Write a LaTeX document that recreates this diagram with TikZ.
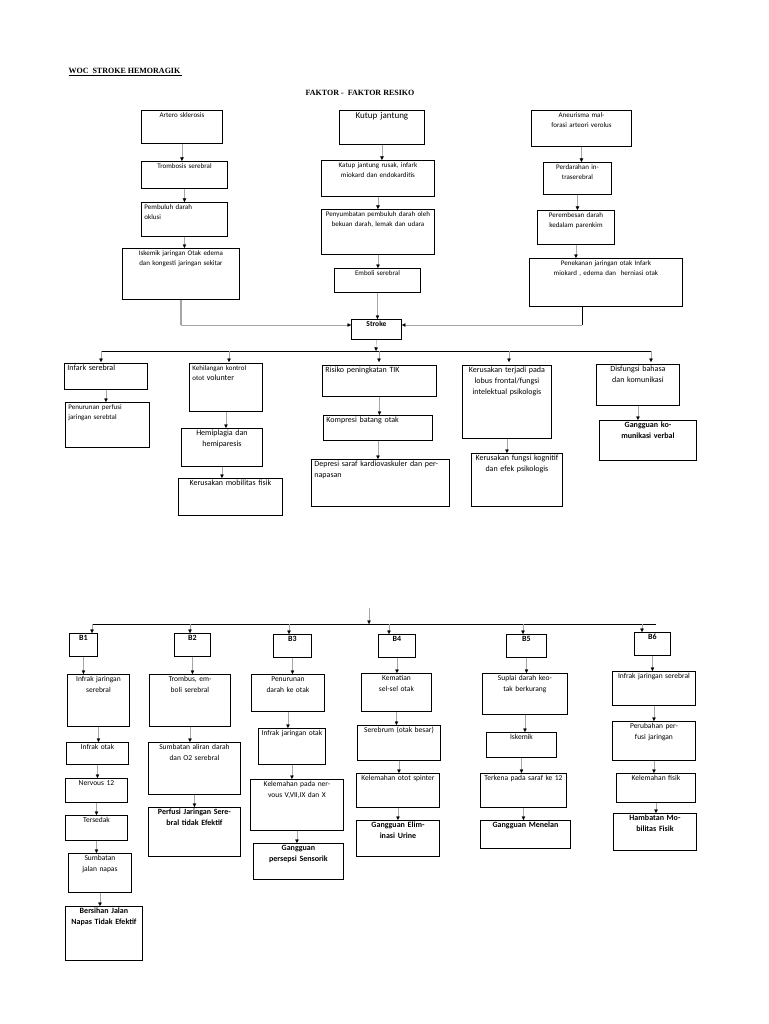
\documentclass[tikz,border=0pt]{standalone}
\usepackage{fontspec}
\setmainfont{Carlito}
\newfontfamily\tms{Liberation Serif}
\usetikzlibrary{arrows.meta,calc}
\tikzset{
  box/.style={draw=black,line width=0.9pt,inner sep=0pt,anchor=north west},
  txt/.style={anchor=north,align=center,inner sep=2pt,font=\fontsize{7}{10.5}\selectfont},
  arr/.style={draw=black!35,line width=0.4pt,-{Triangle[black,length=3.5pt,width=3.5pt]}},
  bus/.style={draw=black,line width=0.9pt},
}
\newcommand\bx[7][]{%
  \pgfmathsetmacro\bw{#5-#3}\pgfmathsetmacro\bh{#6-#4}\pgfmathsetmacro\tw{#5-#3-6}%
  \node[box,minimum width=\bw pt,minimum height=\bh pt] (#2) at (#3,#4) {};
  \node[txt,text width=\tw pt,#1] (#2t) at (#2.north) {#7};}
\begin{document}
\begin{tikzpicture}[x=1pt,y=-1pt]
\useasboundingbox[fill=white] (0,0) rectangle (768,1024);
\node[anchor=west,font=\tms\fontsize{8}{9}\selectfont\bfseries] (title) at (65,72) {\underline{WOC\ \ STROKE HEMORAGIK\ }};
\node[font=\tms\fontsize{8}{9}\selectfont\bfseries] (faktor) at (360,93) {FAKTOR -\ \ FAKTOR RESIKO};
% top left column
\bx{a1}{141}{110}{222}{143}{Artero sklerosis}
\bx{a2}{141}{161}{227}{188}{Trombosis serebral}
\bx[align=left]{a3}{141}{202}{227}{236}{Pembuluh darah\\oklusi}
\bx{a4}{122}{248}{239}{299}{Iskemik jaringan Otak edema dan kongesti jaringan sekitar}
% middle
\bx[font=\fontsize{9}{11}\selectfont]{b1}{339}{110}{424}{144}{Kutup jantung}
\node[box,minimum width=113pt,minimum height=36pt] (b2) at (321,160) {};
\begin{scope}\clip (321,160) rectangle (434,193);
\node[txt,text width=107pt] (b2t) at (b2.north) {Katup jantung rusak, infark miokard dan endokarditis};
\end{scope}
\bx{b3}{321}{209}{434}{254}{Penyumbatan pembuluh darah oleh bekuan darah, lemak dan udara}
\bx{b4}{334}{268}{420}{292}{Emboli serebral}
% right
\bx{c1}{531}{110}{631}{146}{Aneurisma malforasi arteori verolus}
\bx{c2}{543}{162}{611}{194}{Perdarahan intraserebral}
\bx{c3}{537}{210}{614}{244}{Perembesan darah kedalam parenkim}
\bx{c4}{529}{258}{682}{306}{Penekanan jaringan otak Infark miokard , edema dan\ \ herniasi otak}
\bx[font=\fontsize{7.5}{9}\selectfont\bfseries]{st}{351}{319}{401}{339}{Stroke}
\foreach \u/\v in {a1/a2,a2/a3,a3/a4,b1/b2,b2/b3,b3/b4,c1/c2,c2/c3,c3/c4}
  \draw[arr] (\u.south) -- (\u.south |- \v.north);
\draw[arr] (b4.south) -- (b4.south |- st.north);
\coordinate (jl) at (181,325);
\coordinate (jr) at (582,325);
\draw[bus] (a4.south) -- (jl);
\draw[arr] (jl) -- (st.west |- jl);
\draw[bus] (582,306) -- (jr);
\draw[arr] (jr) -- (st.east |- jr);
% second level
\coordinate (sb) at (376,351);
\draw[arr] (st.south) -- (sb);
\draw[bus] (101,351) -- (651,351);
\bx[font=\fontsize{8}{10}\selectfont,align=left]{d1}{64}{363}{147}{389}{Infark serebral}
\bx[align=left]{d2}{65}{402}{149}{447}{Penurunan perfusi jaringan serebtal}
\bx[align=left]{e1}{189}{363}{262}{411}{Kehilangan kontrol otot {\fontsize{8}{10}\selectfont volunter}}
\bx[font=\fontsize{8}{11}\selectfont]{e2}{181}{428}{262}{466}{Hemiplagia dan hemiparesis}
\bx[font=\fontsize{8}{11}\selectfont]{e3}{178}{478}{282}{515}{Kerusakan mobilitas fisik}
\bx[font=\fontsize{8}{10}\selectfont,align=left]{f1}{322}{365}{436}{396}{Risiko peningkatan TIK}
\bx[font=\fontsize{8}{10}\selectfont,align=left]{f2}{323}{415}{432}{440}{Kompresi batang otak}
\bx[font=\fontsize{8}{11}\selectfont,align=left]{f3}{311}{459}{449}{506}{Depresi saraf kardiovaskuler dan pernapasan}
\bx[font=\fontsize{8}{11}\selectfont]{g1}{462}{365}{551}{438}{Kerusakan terjadi pada lobus frontal/fungsi intelektual psikologis}
\bx[font=\fontsize{8}{11}\selectfont]{g2}{471}{453}{562}{506}{Kerusakan fungsi kognitif dan efek psikologis}
\bx[font=\fontsize{8}{11}\selectfont]{h1}{596}{364}{679}{405}{Disfungsi bahasa dan komunikasi}
\bx[font=\fontsize{8}{11}\selectfont\bfseries]{h2}{599}{420}{696}{460}{Gangguan komunikasi verbal}
\foreach \n/\x in {d1/101,e1/229,f1/379,g1/509,h1/651}
  \draw[arr] (\x,351) -- (\x,362);
\foreach \u/\v in {d1/d2,e1/e2,e2/e3,f1/f2,f2/f3,g1/g2,h1/h2}
  \draw[arr] (\u.south) -- (\u.south |- \v.north);
% bottom
\coordinate (bt) at (369,608);
\draw[arr] (bt) -- (369,624);
\draw[bus] (92,624) -- (656,624);
\tikzset{bb/.style={font=\fontsize{8}{10}\selectfont\bfseries}}
\bx[bb]{B1}{69}{633}{97}{656}{B1}
\bx[bb]{B2}{174}{633}{210}{656}{B2}
\bx[bb]{B3}{273}{634}{311}{657}{B3}
\bx[bb]{B4}{378}{634}{415}{657}{B4}
\bx[bb]{B5}{506}{634}{546}{657}{B5}
\bx[bb]{B6}{634}{632}{670}{655}{B6}
\foreach \n/\x in {B1/92,B2/190,B3/289,B4/389,B5/523,B6/642}
  \draw[arr] (\x,624) -- (\x,624 |- \n.north);
\tikzset{m/.style={font=\fontsize{7.5}{11}\selectfont},mb/.style={font=\fontsize{8}{11}\selectfont\bfseries}}
\bx[m]{p1}{67}{674}{129}{726}{Infrak jaringan serebral}
\bx[m]{p2}{66}{742}{128}{764}{Infrak otak}
\bx[m]{p3}{65}{778}{127}{802}{Nervous 12}
\bx[m]{p4}{65}{815}{127}{840}{Tersedak}
\bx[m]{p5}{68}{853}{131}{892}{Sumbatan jalan napas}
\bx[mb]{p6}{65}{906}{142}{960}{Bersihan Jalan Napas Tidak Efektif}
\bx[m]{q1}{149}{674}{230}{726}{Trombus, emboli serebral}
\bx[m]{q2}{148}{742}{240}{794}{Sumbatan aliran darah dan O2 serebral}
\bx[mb]{q3}{148}{807}{240}{856}{Perfusi Jaringan Serebral tidak Efektif}
\bx[m]{r1}{251}{674}{324}{711}{Penurunan darah ke otak}
\bx[m]{r2}{258}{728}{325}{764}{Infrak jaringan otak}
\bx[m]{r3}{250}{779}{343}{830}{Kelemahan pada nervous V,VII,IX dan X}
\bx[mb]{r4}{253}{843}{343}{879}{Gangguan persepsi Sensorik}
\bx[m]{s1}{361}{673}{431}{711}{Kematian sel-sel otak}
\bx[m]{s2}{357}{725}{440}{760}{Serebrum (otak besar)}
\bx[m]{s3}{356}{773}{439}{807}{Kelemahan otot spinter}
\bx[mb]{s4}{356}{820}{439}{856}{Gangguan Eliminasi Urine}
\bx[m]{t1}{482}{673}{567}{714}{Suplai darah keotak berkurang}
\bx[m]{t2}{486}{732}{556}{757}{Iskemik}
\bx[m]{t3}{480}{773}{566}{807}{Terkena pada saraf ke 12}
\bx[mb]{t4}{480}{820}{570}{848}{Gangguan Menelan}
\bx[m]{u1}{612}{671}{695}{705}{Infrak jaringan serebral}
\bx[m]{u2}{612}{721}{695}{760}{Perubahan perfusi jaringan}
\bx[m]{u3}{616}{773}{695}{802}{Kelemahan fisik}
\bx[mb]{u4}{613}{813}{696}{850}{Hambatan Mobilitas Fisik}
\foreach \u/\v in {B1/p1,p1/p2,p2/p3,p3/p4,p4/p5,p5/p6,B2/q1,q1/q2,q2/q3,B3/r1,r1/r2,r2/r3,r3/r4,B4/s1,s1/s2,s2/s3,s3/s4,B5/t1,t1/t2,t2/t3,t3/t4,B6/u1,u1/u2,u2/u3,u3/u4}
  \draw[arr] (\u.south) -- (\u.south |- \v.north);
\end{tikzpicture}
\end{document}
